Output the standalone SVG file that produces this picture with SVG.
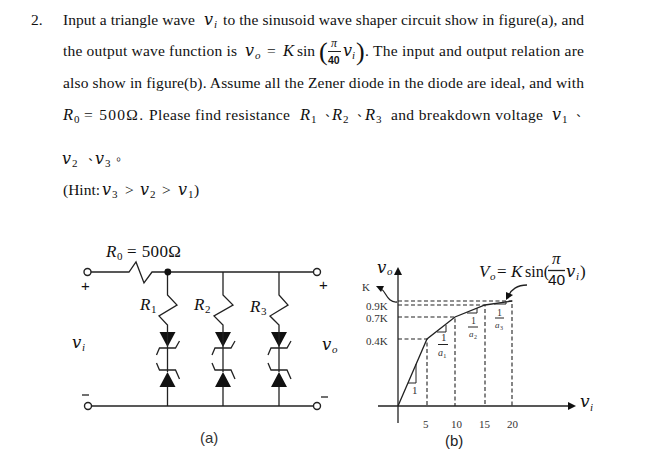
<svg xmlns="http://www.w3.org/2000/svg" width="658" height="453" viewBox="0 0 658 453">
<defs>
<style>
text{font-family:"Liberation Serif","Noto Sans CJK TC",serif;fill:#111}
.b{font-size:15.500px}
.m{font-style:italic;font-size:16.500px}
.v{font-family:"DejaVu Serif",serif;font-style:italic;font-size:16px}
.s{font-size:11px}
.si{font-size:11px;font-style:italic}
.c{font-size:17px}
.ci{font-size:17px;font-style:italic}
.cv{font-family:"DejaVu Serif",serif;font-style:italic;font-size:16.500px}
.cs{font-size:11px}
.g{font-size:11px;fill:#333}
.sans{font-family:"Liberation Sans",sans-serif;font-size:15px}
.w{fill:none;stroke:#222;stroke-width:1.3}
.thin{fill:none;stroke:#222;stroke-width:1}
.d{fill:none;stroke:#222;stroke-width:1.1;stroke-dasharray:4 2.5}
.t{fill:#fff;stroke:#222;stroke-width:1.4}
.k{fill:#111}
</style>
<g id="dz">
<path class="k" d="M-8 0H8L0 15Z"/>
<path class="w" d="M-11 23L-8 16H8L12 9"/>
<path class="w" d="M0 0V40"/>
<path class="k" d="M-8 55H8L0 40Z"/>
<path class="w" d="M-11 31L-8 38H8L12 47"/>
</g>
</defs>
<g id="question">
<text class="b" x="31" y="25">2.</text>
<text class="b" x="63" y="25" textLength="132">Input a triangle wave</text>
<text class="v" x="204" y="25">v</text><text class="si" x="214" y="28">i</text>
<text class="b" x="223" y="25" textLength="361">to the sinusoid wave shaper circuit show in figure(a), and</text>
<text class="b" x="63" y="56" textLength="174">the output wave function is</text>
<text class="v" x="245" y="56">v</text><text class="si" x="255" y="59">o</text>
<text class="b" x="267" y="56">=</text><text class="m" x="283" y="56">K</text><text class="b" x="297" y="56">sin</text>
<text x="319" y="60" style="font-size:26px">(</text>
<text class="si" x="331" y="47" style="font-size:12px">π</text>
<path class="thin" d="M328 51.500H341"/>
<text x="328" y="64" style="font-size:10.500px;font-weight:bold;font-family:'Liberation Sans',sans-serif">40</text>
<text class="v" x="343" y="56">v</text><text class="si" x="352" y="59">i</text>
<text x="356" y="60" style="font-size:26px">)</text>
<text class="b" x="365" y="56">.</text>
<text class="b" x="373" y="56" textLength="211">The input and output relation are</text>
<text class="b" x="63" y="88" textLength="521">also show in figure(b). Assume all the Zener diode in the diode are ideal, and with</text>
<text class="m" x="63" y="120">R</text><text class="s" x="74" y="123">0</text>
<text class="b" x="84" y="120" textLength="59">= 500Ω.</text>
<text class="b" x="149" y="120" textLength="141">Please find resistance</text>
<text class="m" x="300" y="120">R</text><text class="s" x="311" y="123">1</text>
<text class="s" x="322" y="120">、</text>
<text class="m" x="332" y="120">R</text><text class="s" x="343" y="123">2</text>
<text class="s" x="354" y="120">、</text>
<text class="m" x="365" y="120">R</text><text class="s" x="376" y="123">3</text>
<text class="b" x="391" y="120" textLength="152">and breakdown voltage</text>
<text class="v" x="552" y="120">v</text><text class="s" x="562" y="123">1</text>
<text class="s" x="573" y="120">、</text>
<text class="v" x="62" y="164">v</text><text class="s" x="72" y="167">2</text>
<text class="s" x="85" y="164">、</text>
<text class="v" x="95" y="164">v</text><text class="s" x="105" y="167">3</text>
<text class="s" x="113" y="164">。</text>
<text class="b" x="63" y="195">(Hint:</text>
<text class="v" x="102" y="195">v</text><text class="s" x="112" y="198">3</text>
<text class="b" x="125" y="195">&gt;</text>
<text class="v" x="140" y="195">v</text><text class="s" x="150" y="198">2</text>
<text class="b" x="162" y="195">&gt;</text>
<text class="v" x="178" y="195">v</text><text class="s" x="188" y="198">1</text>
<text class="b" x="194" y="195">)</text>
</g>
<g id="connectors">
<path class="w" d="M91 272H129L136 262L144 283L152 272H313"/>
<path class="w" d="M91 406H313"/>
<path class="w" d="M167.500 272V295L177 305L159 316L167.500 325V332"/>
<path class="w" d="M223 272V295L233 305L214 316L223 325V332"/>
<path class="w" d="M279 272V295L288 305L270 316L279 325V332"/>
<path class="w" d="M167.500 387V406M223 387V406M279 387V406"/>
</g>
<g id="node-vi-top"><circle class="t" cx="87.500" cy="272" r="3.500"/><text class="c" x="81" y="291" style="font-family:'Liberation Sans',sans-serif;font-size:15px">+</text></g>
<g id="node-vi-bottom"><circle class="t" cx="88" cy="406" r="3.500"/><path class="w" d="M82 395H89"/></g>
<g id="node-vo-top"><circle class="t" cx="317" cy="272" r="3.500"/><text class="c" x="319" y="290" style="font-family:'Liberation Sans',sans-serif;font-size:15px">+</text></g>
<g id="node-vo-bottom"><circle class="t" cx="317" cy="406" r="3.500"/><path class="w" d="M321 397H328"/></g>
<g id="junction"><circle class="k" cx="167.800" cy="272" r="3.400"/></g>
<g id="R0"><text class="ci" x="106" y="257">R</text><text class="cs" x="117" y="260">0</text><text class="c" x="127" y="257" textLength="54">= 500Ω</text></g>
<g id="R1"><text class="ci" x="140" y="310">R</text><text class="cs" x="151" y="313">1</text></g>
<g id="R2"><text class="ci" x="194" y="310">R</text><text class="cs" x="205" y="313">2</text></g>
<g id="R3"><text class="ci" x="250" y="312">R</text><text class="cs" x="261" y="315">3</text></g>
<g id="Z1"><use href="#dz" x="167.500" y="332"/></g>
<g id="Z2"><use href="#dz" x="223" y="332"/></g>
<g id="Z3"><use href="#dz" x="279" y="332"/></g>
<g id="vi-label"><text class="cv" x="72" y="348">v</text><text class="cs" x="82" y="351" style="font-style:italic">i</text></g>
<g id="vo-label"><text class="cv" x="322" y="350">v</text><text class="cs" x="332" y="353" style="font-style:italic">o</text></g>
<g id="label-a"><text class="sans" x="200" y="443" style="fill:#333">(a)</text></g>
<g id="graph">
<path class="w" d="M398 272V423M378 406H570"/>
<path class="k" d="M398 267L402 275H394Z"/>
<path class="k" d="M576 406L568 402V410Z"/>
<path class="d" d="M398 339H427V406M398 317H455V406M398 305H485V406M398 301H512V406"/>
<path class="w" d="M398 406L427 339L455 317L485 305L512 301"/>
<path class="thin" d="M408 383H416V364M437 332H446V325M467 313H477V308M494 304H506V301"/>
<path class="thin" d="M438 344.500H448M468 327H478M495 318H504"/>
<path class="w" d="M397 302C387 303 386 291 381 289"/>
<path class="k" d="M376 286L384 286L381 292Z"/>
<path class="w" d="M527 285C517 285 511 290 509 295"/>
<path class="k" d="M506 300L506 292L513 295Z"/>
<text class="cv" x="377" y="273">v</text><text class="cs" x="387" y="275" style="font-style:italic">o</text>
<text class="g" x="362" y="291">K</text>
<text class="g" x="366" y="310">0.9K</text>
<text class="g" x="366" y="322">0.7K</text>
<text class="g" x="366" y="345">0.4K</text>
<text class="g" x="412" y="394">1</text>
<text class="g" x="441" y="341">1</text>
<text class="si" x="438" y="356" style="fill:#333;font-size:10px">a</text><text x="443" y="358" style="font-size:7px;fill:#333">1</text>
<text class="g" x="471" y="324" style="font-size:10px">1</text>
<text class="si" x="469" y="337" style="fill:#333;font-size:9px">a</text><text x="474" y="339" style="font-size:6px;fill:#333">2</text>
<text class="g" x="497" y="316" style="font-size:10px">1</text>
<text class="si" x="495" y="328" style="fill:#333;font-size:9px">a</text><text x="500" y="330" style="font-size:6px;fill:#333">3</text>
<text class="g" x="423" y="428">5</text>
<text class="g" x="451" y="428">10</text>
<text class="g" x="479" y="428">15</text>
<text class="g" x="507" y="428">20</text>
<text class="cv" x="580" y="407" style="font-size:17px">v</text><text class="cs" x="590" y="411" style="font-style:italic">i</text>
<text class="ci" x="479" y="277">V</text><text class="cs" x="490" y="280" style="font-style:italic">o</text>
<text class="c" x="497" y="277">=</text><text class="ci" x="511" y="277">K</text>
<text class="c" x="525" y="277" style="font-size:16px">sin(</text>
<text class="ci" x="552" y="264">π</text>
<path class="w" d="M548 270.500H565"/>
<text class="c" x="548" y="285" style="font-size:15.500px;font-family:'Liberation Sans',sans-serif">40</text>
<text class="cv" x="566" y="277">v</text><text class="cs" x="576" y="280" style="font-style:italic">i</text>
<text class="c" x="580" y="277">)</text>
<text class="sans" x="445" y="446" style="fill:#222">(b)</text>
</g>
</svg>
